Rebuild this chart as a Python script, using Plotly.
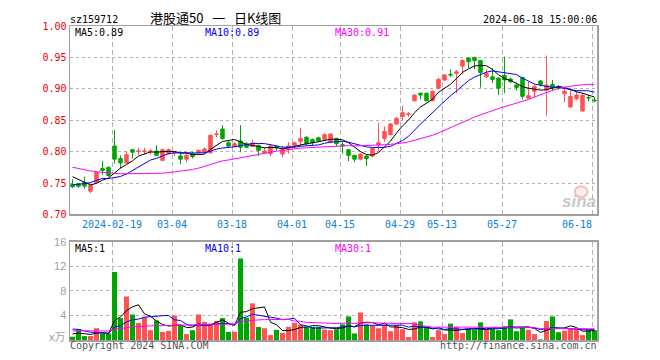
import numpy as np
import plotly.graph_objects as go

dates = ["2024-01-31","2024-02-01","2024-02-02","2024-02-05","2024-02-06","2024-02-07","2024-02-08",
         "2024-02-19","2024-02-20","2024-02-21","2024-02-22","2024-02-23","2024-02-26","2024-02-27",
         "2024-02-28","2024-02-29","2024-03-01","2024-03-04","2024-03-05","2024-03-06","2024-03-07",
         "2024-03-08","2024-03-11","2024-03-12","2024-03-13","2024-03-14","2024-03-15","2024-03-18",
         "2024-03-19","2024-03-20","2024-03-21","2024-03-22","2024-03-25","2024-03-26","2024-03-27",
         "2024-03-28","2024-03-29","2024-04-01","2024-04-02","2024-04-03","2024-04-08","2024-04-09",
         "2024-04-10","2024-04-11","2024-04-12","2024-04-15","2024-04-16","2024-04-17","2024-04-18",
         "2024-04-19","2024-04-22","2024-04-23","2024-04-24","2024-04-25","2024-04-26","2024-04-29",
         "2024-04-30","2024-05-06","2024-05-07","2024-05-08","2024-05-09","2024-05-10","2024-05-13",
         "2024-05-14","2024-05-15","2024-05-16","2024-05-17","2024-05-20","2024-05-21","2024-05-22",
         "2024-05-23","2024-05-24","2024-05-27","2024-05-28","2024-05-29","2024-05-30","2024-05-31",
         "2024-06-03","2024-06-04","2024-06-05","2024-06-06","2024-06-07","2024-06-11","2024-06-12",
         "2024-06-13","2024-06-14","2024-06-17","2024-06-18"]

opens = [0.748,0.749,0.751,0.737,0.751,0.773,0.775,0.809,0.789,0.782,0.803,0.800,0.800,0.800,
         0.801,0.786,0.797,0.798,0.793,0.788,0.797,0.798,0.799,0.798,0.827,0.836,0.814,0.808,
         0.817,0.8125,0.808,0.810,0.798,0.797,0.808,0.796,0.803,0.810,0.816,0.823,0.819,0.822,
         0.819,0.815,0.821,0.811,0.803,0.794,0.788,0.793,0.793,0.811,0.821,0.827,0.844,0.856,
         0.859,0.881,0.893,0.893,0.881,0.901,0.914,0.923,0.9245,0.936,0.949,0.950,0.945,0.919,
         0.919,0.917,0.921,0.9156,0.906,0.918,0.885,0.896,0.9125,0.898,0.907,0.903,0.892,0.871,
         0.884,0.8646,0.886,0.882]
highs = [0.756,0.750,0.760,0.747,0.768,0.785,0.776,0.834,0.794,0.801,0.804,0.806,0.806,0.804,
         0.810,0.805,0.805,0.801,0.800,0.798,0.800,0.803,0.807,0.827,0.834,0.842,0.818,0.815,
         0.842,0.815,0.819,0.811,0.806,0.8125,0.810,0.809,0.815,0.816,0.838,0.824,0.821,0.824,
         0.829,0.829,0.822,0.815,0.804,0.795,0.797,0.794,0.806,0.846,0.840,0.845,0.855,0.873,
         0.863,0.891,0.894,0.894,0.897,0.918,0.923,0.931,0.930,0.947,0.950,0.951,0.946,0.931,
         0.933,0.918,0.951,0.918,0.910,0.919,0.911,0.907,0.914,0.953,0.914,0.906,0.902,0.901,
         0.896,0.893,0.890,0.886]
lows = [0.742,0.742,0.741,0.734,0.750,0.763,0.760,0.781,0.773,0.781,0.789,0.795,0.796,0.795,
        0.793,0.785,0.795,0.793,0.780,0.783,0.789,0.797,0.797,0.797,0.823,0.819,0.806,0.807,
        0.799,0.805,0.807,0.793,0.796,0.793,0.802,0.791,0.797,0.805,0.808,0.810,0.810,0.815,
        0.818,0.813,0.809,0.797,0.785,0.783,0.786,0.777,0.791,0.800,0.816,0.826,0.842,0.850,
        0.855,0.880,0.883,0.880,0.880,0.900,0.912,0.919,0.893,0.923,0.933,0.931,0.902,0.917,
        0.909,0.890,0.893,0.909,0.897,0.883,0.884,0.885,0.904,0.857,0.896,0.898,0.878,0.870,
        0.882,0.8635,0.880,0.879]
closes = [0.744,0.745,0.745,0.746,0.767,0.770,0.762,0.788,0.782,0.795,0.799,0.801,0.801,0.801,
          0.794,0.803,0.803,0.800,0.788,0.794,0.792,0.802,0.804,0.826,0.828,0.821,0.809,0.8125,
          0.807,0.807,0.8135,0.802,0.801,0.809,0.806,0.803,0.809,0.814,0.821,0.8125,0.814,0.817,
          0.827,0.828,0.8125,0.8095,0.794,0.788,0.796,0.789,0.805,0.814,0.832,0.844,0.853,0.862,
          0.860,0.890,0.890,0.881,0.896,0.915,0.922,0.922,0.927,0.945,0.943,0.945,0.926,0.9245,
          0.915,0.901,0.914,0.9115,0.902,0.888,0.889,0.9036,0.907,0.906,0.901,0.9015,0.896,0.888,
          0.890,0.8896,0.8855,0.881]
volumes = [0.53,1.76,0.64,0.64,1.92,1.07,1.07,11.1,3.57,7.1,4.16,2.77,3.73,1.6,
           3.2,1.33,1.49,4.0,2.4,0.96,1.6,4.16,2.93,2.67,3.09,3.57,1.33,1.33,
           13.3,3.63,5.97,2.13,1.92,0.8,1.65,1.17,2.13,2.77,2.5,2.13,2.13,2.13,
           1.7,1.6,1.76,2.56,3.84,1.07,4.48,2.56,2.29,1.92,2.5,1.44,2.45,1.76,
           0.48,2.88,3.04,2.13,0.48,1.6,0.96,2.67,2.13,1.12,1.7,1.7,2.88,1.7,
           1.87,1.6,2.24,3.36,1.44,2.03,1.65,0.96,0.1,3.09,3.84,1.28,1.49,1.87,
           1.7,0.8,1.6,1.6]

# sessions before the window, estimated from where the MA lines start
prior_closes = [0.808,0.805,0.800,0.802,0.804,0.799,0.800,0.798,0.802,0.797,0.795,0.793,0.796,
                0.794,0.789,0.778,0.770,0.760,0.752,0.740,0.738,0.732,0.728,0.735,0.737,
                0.765,0.765,0.771,0.755]
prior_volumes = [1.2,1.5,1.1,1.4,1.6,1.3,1.2,1.5,1.4,1.3,1.1,1.6,1.5,1.2,1.4,1.3,1.5,1.4,1.3,1.4,
                 2.2,3.1,2.8,2.4,2.3,1.2,1.0,1.3,0.97]

tick_dates = ["2024-02-19","2024-03-04","2024-03-18","2024-04-01","2024-04-15",
              "2024-04-29","2024-05-13","2024-05-27","2024-06-18"]
tick_labels = ["2024-02-19","03-04","03-18","04-01","04-15","04-29","05-13","05-27","06-18"]
price_ticks = [0.70,0.75,0.80,0.85,0.90,0.95,1.00]
vol_ticks = [4,8,12,16]


def moving_avg(values, prior, n):
    full = np.array(prior + values, dtype=float)
    start = len(prior)
    return [float(full[i - n + 1:i + 1].mean()) for i in range(start, len(full))]


xs = list(range(len(dates)))
ma5 = moving_avg(closes, prior_closes, 5)
ma10 = moving_avg(closes, prior_closes, 10)
ma30 = moving_avg(closes, prior_closes, 30)
vma5 = moving_avg(volumes, prior_volumes, 5)
vma10 = moving_avg(volumes, prior_volumes, 10)
vma30 = moving_avg(volumes, prior_volumes, 30)

RED = "#ff5252"
GREEN = "#00a600"
MONO = "DejaVu Sans Mono"

fig = go.Figure()
fig.add_trace(go.Candlestick(
    x=xs, open=opens, high=highs, low=lows, close=closes,
    increasing=dict(line=dict(color=RED, width=1), fillcolor=RED),
    decreasing=dict(line=dict(color=GREEN, width=1), fillcolor=GREEN),
    whiskerwidth=0, xaxis="x", yaxis="y", hoverinfo="skip"))
for vals, col in [(ma5, "black"), (ma10, "#0000ff"), (ma30, "#ff00ff")]:
    fig.add_trace(go.Scatter(x=xs, y=vals, mode="lines", line=dict(color=col, width=1),
                             xaxis="x", yaxis="y", hoverinfo="skip"))

vol_colors = [RED if c >= o else GREEN for o, c in zip(opens, closes)]
fig.add_trace(go.Bar(x=xs, y=volumes, marker=dict(color=vol_colors, line=dict(width=0)),
                     xaxis="x2", yaxis="y2", hoverinfo="skip"))
for vals, col in [(vma5, "black"), (vma10, "#0000ff"), (vma30, "#ff00ff")]:
    fig.add_trace(go.Scatter(x=xs, y=vals, mode="lines", line=dict(color=col, width=1),
                             xaxis="x2", yaxis="y2", hoverinfo="skip"))

offset = 0.417
tickpos = [dates.index(d) - offset for d in tick_dates]
xrange = [-offset, len(dates) - 1 + 0.417]
grid_col = "#b4b4b4"
border = "#a0a0a0"

# the last date label sits to the left of its grid line (it would overflow the frame)
shown_labels = tick_labels[:-1] + [tick_labels[-1] + "\u00a0" * 5]

common_x = dict(range=xrange, showgrid=True, gridcolor=grid_col, griddash="5px,3px", gridwidth=1,
                tickvals=tickpos, zeroline=False, showline=True, mirror=True, linecolor=border,
                linewidth=1.5, ticks="", fixedrange=True)

# the page body has an 8px margin, so the figure is 8px smaller and its margins 8px tighter
fig.update_layout(
    width=652, height=352, margin=dict(l=62, r=63, t=12, b=20),
    paper_bgcolor="white", plot_bgcolor="white", showlegend=False,
    bargap=0.17, boxgap=0.17, hovermode=False,
    xaxis=dict(**common_x, domain=[0, 1], anchor="y", ticktext=shown_labels,
               tickfont=dict(family=MONO, size=10, color="#0a82d8"),
               rangeslider=dict(visible=False)),
    yaxis=dict(domain=[0.4, 1.0], range=[0.70, 1.00], tickvals=price_ticks,
               tickformat=".2f", tickfont=dict(family=MONO, size=10, color="#ee0000"),
               showgrid=True, gridcolor=grid_col, griddash="dot", gridwidth=1,
               zeroline=False, showline=True, mirror=True, linecolor=border, linewidth=1.5,
               ticks="", fixedrange=True),
    xaxis2=dict(**common_x, domain=[0, 1], anchor="y2", matches="x", showticklabels=False),
    yaxis2=dict(domain=[0, 0.3125], range=[0, 16], tickvals=vol_ticks,
                tickfont=dict(family="Liberation Sans", size=11, color="#a0a0a0"),
                showgrid=True, gridcolor=grid_col, griddash="dot", gridwidth=1,
                zeroline=False, showline=True, mirror=True, linecolor=border, linewidth=1.5,
                ticks="", fixedrange=True),
)

def ann(text, x, y, xanchor="left", color="black", size=10, family=MONO, **kw):
    fig.add_annotation(text=text, x=x, y=y, xref="paper", yref="paper", xanchor=xanchor,
                       yanchor="middle", showarrow=False, borderpad=0, borderwidth=0,
                       font=dict(family=family, size=size, color=color), **kw)

gap = "\u00a0" * 3
ann("sz159712", 0.0, 1.022)
ann(f"港股通50{gap}一{gap}日K线图", 0.152, 1.028, xanchor="left", size=13,
    family="Noto Sans CJK SC")
ann("2024-06-18 15:00:06", 1.0, 1.022, xanchor="right")
ann(f"MA5:{ma5[-1]:.2f}", 0.009, 0.979)
ann(f"MA10:{ma10[-1]:.2f}", 0.256, 0.979, color="#0000ff")
ann(f"MA30:{ma30[-1]:.2f}", 0.503, 0.979, color="#ff00ff")
ann(f"MA5:{int(vma5[-1])}", 0.009, 0.291)
ann(f"MA10:{int(vma10[-1])}", 0.256, 0.291, color="#0000ff")
ann(f"MA30:{int(vma30[-1])}", 0.503, 0.291, color="#ff00ff")
ann("Copyright 2024 SINA.COM", 0.0, -0.019, color="#555555")
ann("http://finance.sina.com.cn", 1.0, -0.019, xanchor="right", color="#555555")
ann("x万", -0.01, 0.012, xanchor="right", color="#a0a0a0", size=11, family="Noto Sans CJK SC")
ann("<b><i>sina</i></b>", 0.965, 0.44, xanchor="center", color="rgba(190,190,190,0.85)", size=17,
    family="Liberation Sans")
# faint logo mark above the watermark text
fig.add_shape(type="circle", xref="paper", yref="paper", x0=0.958, x1=0.982, y0=0.455, y1=0.49,
              line=dict(color="rgba(240,150,150,0.6)", width=2),
              fillcolor="rgba(250,200,200,0.3)")

fig.write_html("out.html", config={"displayModeBar": False, "staticPlot": True})
